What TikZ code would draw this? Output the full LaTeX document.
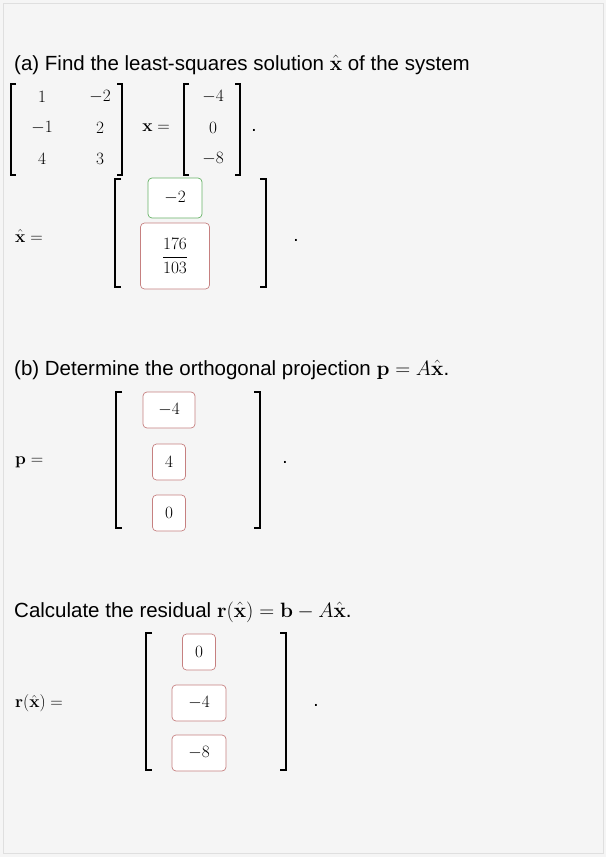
\documentclass[tikz,border=0pt]{standalone}
\usepackage{amsmath}
\usepackage[no-math]{fontspec}
\setmainfont{Liberation Sans}
\begin{document}
\begin{tikzpicture}[x=1pt,y=-1pt,
  txt/.style={anchor=base west,inner sep=0,font=\fontsize{20.5}{24}\selectfont},
  mth/.style={inner sep=0,font=\fontsize{19}{22}\selectfont},
  br/.style={line width=1.3pt},
  gbox/.style={draw=green!50!black!60,fill=white,rounded corners=4pt,line width=0.7pt,inner sep=0,font=\fontsize{19}{22}\selectfont},
  rbox/.style={draw=red!55!black!50,fill=white,rounded corners=4pt,line width=0.7pt,inner sep=0,font=\fontsize{19}{22}\selectfont}]
\fill[gray!8] (0,0) rectangle (606,857);
\draw[gray!25] (3,3) rectangle (603,853);
% (a)
\node[txt] (ta) at (14,70) {(a) Find the least-squares solution $\hat{\mathbf{x}}$ of the system};
\draw[br] (16,84)--(11,84)--(11,175)--(16,175);
\draw[br] (117,84)--(122,84)--(122,175)--(117,175);
\node[mth] (a11) at (42,97) {$1$};
\node[mth] (a12) at (100,97) {$-2$};
\node[mth] (a21) at (42,128) {$-1$};
\node[mth] (a22) at (100,128) {$2$};
\node[mth] (a31) at (42,159) {$4$};
\node[mth] (a32) at (100,159) {$3$};
\node[mth] (xeq) at (156,128) {$\mathbf{x}=$};
\draw[br] (189,84)--(184,84)--(184,175)--(189,175);
\draw[br] (235,84)--(240,84)--(240,175)--(235,175);
\node[mth] (b1) at (213,97) {$-4$};
\node[mth] (b2) at (213,128) {$0$};
\node[mth] (b3) at (213,159) {$-8$};
\node[mth] (dot1) at (254,130) {.};
\node[mth,anchor=west] (xh) at (15,236) {$\hat{\mathbf{x}}=$};
\draw[br] (121,179)--(115,179)--(115,287)--(121,287);
\draw[br] (260,179)--(266,179)--(266,287)--(260,287);
\node[gbox,minimum width=54pt,minimum height=40pt] (x1) at (175,198) {$-2$};
\node[rbox,minimum width=69pt,minimum height=66pt] (x2) at (175,256) {$\dfrac{176}{103}$};
\node[mth] (dot2) at (296,240) {.};
% (b)
\node[txt] (tb) at (14,375) {(b) Determine the orthogonal projection $\mathbf{p}=A\hat{\mathbf{x}}$.};
\node[mth,anchor=west] (peq) at (15,462) {$\mathbf{p}=$};
\draw[br] (122,392)--(116,392)--(116,528)--(122,528);
\draw[br] (254,392)--(260,392)--(260,528)--(254,528);
\node[rbox,minimum width=52pt,minimum height=36pt] (p1) at (169,410) {$-4$};
\node[rbox,minimum width=33pt,minimum height=36pt] (p2) at (169,462) {$4$};
\node[rbox,minimum width=33pt,minimum height=36pt] (p3) at (169,513) {$0$};
\node[mth] (dot3) at (285,462) {.};
% residual
\node[txt] (tc) at (14,617) {Calculate the residual $\mathbf{r}(\hat{\mathbf{x}})=\mathbf{b}-A\hat{\mathbf{x}}$.};
\node[mth,anchor=west] (req) at (15,703) {$\mathbf{r}(\hat{\mathbf{x}})=$};
\draw[br] (152,633)--(146,633)--(146,770)--(152,770);
\draw[br] (280,633)--(286,633)--(286,770)--(280,770);
\node[rbox,minimum width=33pt,minimum height=36pt] (r1) at (199,652) {$0$};
\node[rbox,minimum width=54pt,minimum height=36pt] (r2) at (199,703) {$-4$};
\node[rbox,minimum width=54pt,minimum height=36pt] (r3) at (199,753) {$-8$};
\node[mth] (dot4) at (316,705) {.};
\end{tikzpicture}
\end{document}
